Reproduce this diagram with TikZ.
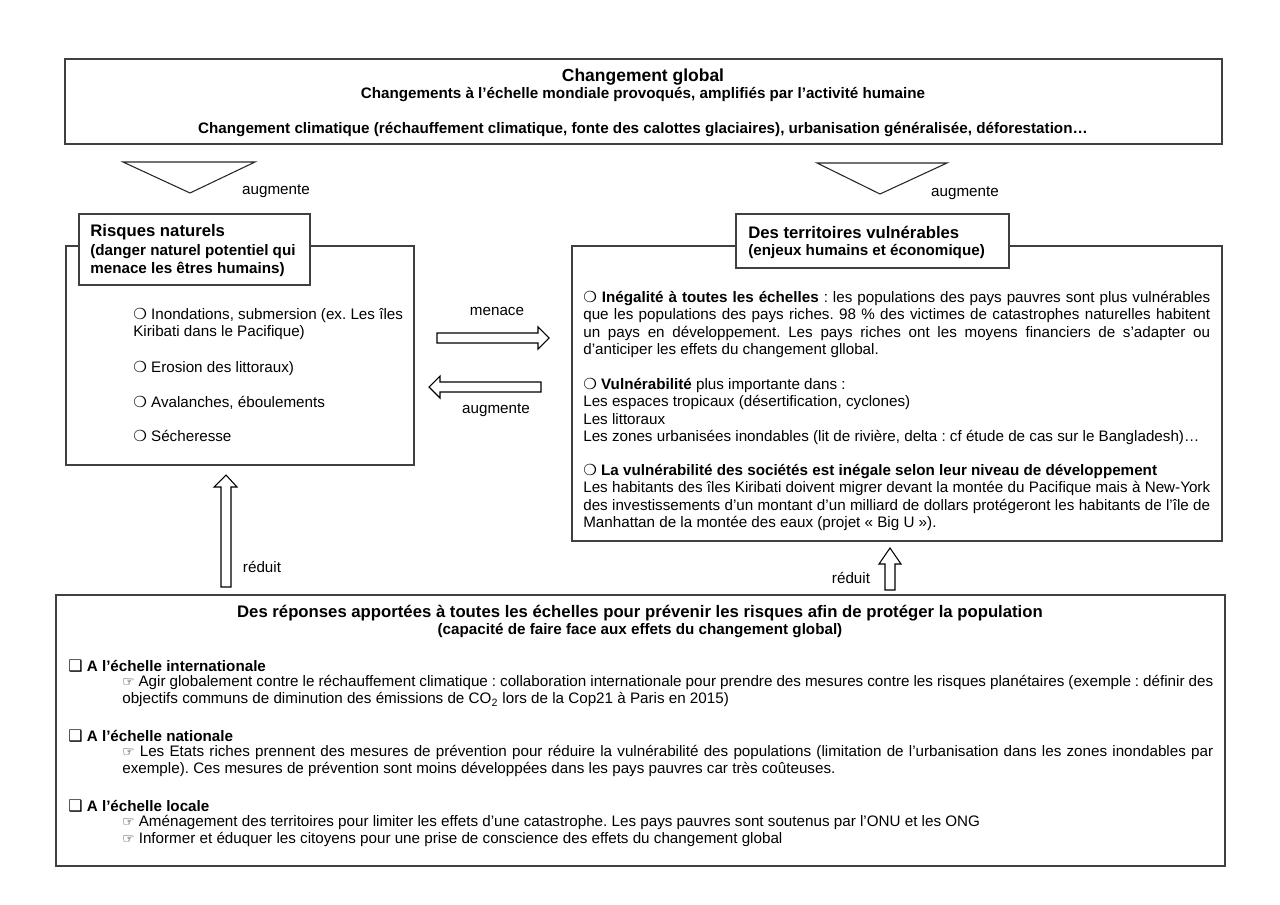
\documentclass[tikz,border=0pt]{standalone}
\usepackage{fontspec}
\setmainfont{Liberation Sans}
\newfontfamily\symfont{DejaVu Sans}
\usepackage{tikz}
\usetikzlibrary{positioning,fit}
\frenchspacing

\newcommand{\rond}{{\symfont\fontsize{10}{10}\selectfont ❍}}
\newcommand{\carre}{{\symfont\fontsize{10.5}{10}\selectfont ❑}}
\newcommand{\doigt}{{\symfont\fontsize{9}{9}\selectfont ☞}}

\tikzset{
  panel/.style={draw=black!75, line width=0.7pt, inner sep=0pt},
  titlebox/.style={panel, fill=white},
  ligne/.style={draw=black!85, line width=0.7pt, line join=miter},
  bigarrow/.style={draw=black, line width=0.7pt, fill=white, line join=miter},
  txt/.style={inner sep=0pt, yshift=-1.3pt, anchor=north west, align=left, font=\fontsize{10}{11.5}\selectfont},
  label/.style={inner sep=0pt, yshift=-1pt, font=\fontsize{10}{11.5}\selectfont},
  parabox/.style={txt, text width=412.4pt, align=justify},
  itembox/.style={txt, text width=717.7pt, align=justify},
  head/.style={inner sep=0pt, yshift=-1.3pt, font=\bfseries\fontsize{10}{11.5}\selectfont},
}

\begin{document}
\begin{tikzpicture}[x=0.6578pt, y=-0.6578pt]
    \useasboundingbox (0,0) rectangle (1280,905);

    % Changement global
    \node[panel, fit={(65,59) (1222,144)}] (global) {};
    \node[head, font=\bfseries\fontsize{11.5}{13}\selectfont] (globtitre) at (643,75) {Changement global};
    \node[head] (globsous) at (643,93) {Changements à l’échelle mondiale provoqués, amplifiés par l’activité humaine};
    \node[head] (globex) at (643,128) {Changement climatique (réchauffement climatique, fonte des calottes glaciaires), urbanisation généralisée, déforestation…};

    % triangles
    \draw[ligne] (123,162) -- (255,162) -- (190,193) -- cycle;
    \node[label] (augg) at (276,190) {augmente};
    \draw[ligne] (817,163) -- (947,163) -- (880,194) -- cycle;
    \node[label] (augd) at (965,192) {augmente};

    % Risques naturels
    \node[panel, fit={(66,246) (414,465)}] (risques) {};
    \node[titlebox, fit={(79,214) (310,285)}] (risqtitre) {};
    \node[head, anchor=west, font=\bfseries\fontsize{11}{13}\selectfont] (risqnom) at (90,230) {Risques naturels};
    \node[head, anchor=north west, align=left, font=\bfseries\fontsize{10}{12.2}\selectfont] (risqdef) at (90,242) {(danger naturel potentiel qui\\menace les êtres humains)};

    \node[txt] (inond) at (133,306) {\rond\ Inondations, submersion (ex. Les îles\\Kiribati dans le Pacifique)};
    \node[txt] (erosion) at (133,359) {\rond\ Erosion des littoraux)};
    \node[txt] (aval) at (133,394) {\rond\ Avalanches, éboulements};
    \node[txt] (seche) at (133,428) {\rond\ Sécheresse};

    % Territoires vulnerables
    \node[panel, fit={(572,246) (1222,541)}] (terr) {};
    \node[titlebox, fit={(736,214) (1009,268)}] (terrtitre) {};
    \node[head, anchor=west, font=\bfseries\fontsize{11}{13}\selectfont] (terrnom) at (748,230) {Des territoires vulnérables};
    \node[head, anchor=west] (terrdef) at (748,250) {(enjeux humains et économique)};

    \node[parabox] (inegal) at (583,289) {\rond\ \textbf{Inégalité à toutes les échelles} : les populations des pays pauvres sont plus vulnérables\linebreak{} que les populations des pays riches. 98 \% des victimes de catastrophes naturelles habitent\linebreak{} un pays en développement. Les pays riches ont les moyens financiers de s’adapter ou\linebreak{} d’anticiper les effets du changement gllobal.};
    \node[txt] (vulner) at (583,376) {\rond\ \textbf{Vulnérabilité} plus importante dans :\\Les espaces tropicaux (désertification, cyclones)\\Les littoraux\\Les zones urbanisées inondables (lit de rivière, delta : cf étude de cas sur le Bangladesh)…};
    \node[parabox] (societes) at (583,462) {\rond\ \textbf{La vulnérabilité des sociétés est inégale selon leur niveau de développement}\\Les habitants des îles Kiribati doivent migrer devant la montée du Pacifique mais à New-York\linebreak{} des investissements d’un montant d’un milliard de dollars protégeront les habitants de l’île de\linebreak{} Manhattan de la montée des eaux (projet « Big U »).};

    % fleches entre les deux blocs
    \draw[bigarrow] (437,333) -- (538,333) -- (538,327) -- (549,338) -- (538,349) -- (538,343) -- (437,343) -- cycle;
    \node[label] (menace) at (497,310) {menace};
    \draw[bigarrow] (541,382) -- (440,382) -- (440,376) -- (429,387) -- (440,398) -- (440,392) -- (541,392) -- cycle;
    \node[label] (augm) at (496,409) {augmente};

    % fleches reduit
    \draw[bigarrow] (221,587) -- (221,487) -- (214,487) -- (226,475) -- (237,487) -- (231,487) -- (231,587) -- cycle;
    \node[label] (redg) at (262,565) {réduit};
    \draw[bigarrow] (885,590) -- (885,564) -- (879,564) -- (890,548) -- (901,564) -- (895,564) -- (895,590) -- cycle;
    \node[label] (redd) at (851,576) {réduit};

    % Reponses
    \node[panel, fit={(56,595) (1225,866)}] (reponses) {};
    \node[head, font=\bfseries\fontsize{11}{13}\selectfont] (reptitre) at (640,611) {Des réponses apportées à toutes les échelles pour prévenir les risques afin de protéger la population};
    \node[head] (repsous) at (640,629) {(capacité de faire face aux effets du changement global)};

    \node[head, anchor=west] (inter) at (68,664) {\carre\ A l’échelle internationale};
    \node[itembox] (interx) at (122,673) {\doigt\ Agir globalement contre le réchauffement climatique : collaboration internationale pour prendre des mesures contre les risques planétaires (exemple : définir des\linebreak{} objectifs communs de diminution des émissions de CO\textsubscript{2} lors de la Cop21 à Paris en 2015)};

    \node[head, anchor=west] (nation) at (68,734) {\carre\ A l’échelle nationale};
    \node[itembox] (nationx) at (122,743) {\doigt\ Les Etats riches prennent des mesures de prévention pour réduire la vulnérabilité des populations (limitation de l’urbanisation dans les zones inondables par\linebreak{} exemple). Ces mesures de prévention sont moins développées dans les pays pauvres car très coûteuses.};

    \node[head, anchor=west] (locale) at (68,804) {\carre\ A l’échelle locale};
    \node[txt] (localex) at (122,813) {\doigt\ Aménagement des territoires pour limiter les effets d’une catastrophe. Les pays pauvres sont soutenus par l’ONU et les ONG\\\doigt\ Informer et éduquer les citoyens pour une prise de conscience des effets du changement global};
\end{tikzpicture}
\end{document}
